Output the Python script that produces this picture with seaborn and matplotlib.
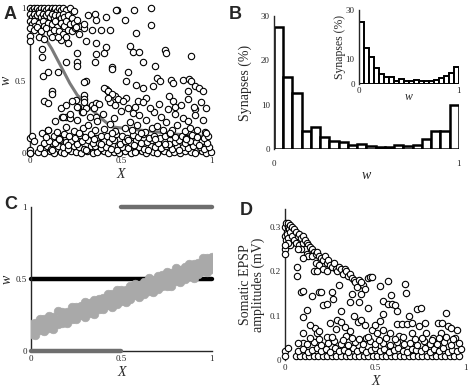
import numpy as np
import matplotlib
matplotlib.use("Agg")
import matplotlib.pyplot as plt
import seaborn as sns

sns.set_style("white")
plt.rcParams['font.family'] = ['Liberation Serif', 'DejaVu Serif']

# ---- panel A : weight w against position X ----
a_top = [
    (0.0, 1.0), (0.01, 0.99), (0.02, 1.0), (0.03, 0.98), (0.04, 1.0), (0.05, 0.99), (0.06, 1.0),
    (0.07, 0.98), (0.08, 1.0), (0.09, 0.99), (0.10, 1.0), (0.11, 0.98), (0.12, 1.0), (0.13, 0.99),
    (0.14, 1.0), (0.15, 0.98), (0.16, 1.0), (0.17, 0.99), (0.18, 1.0), (0.20, 0.99), (0.22, 1.0),
    (0.24, 0.98), (0.0, 0.96), (0.01, 0.94), (0.02, 0.96), (0.03, 0.93), (0.04, 0.95), (0.05, 0.97),
    (0.06, 0.94), (0.07, 0.96), (0.08, 0.93), (0.09, 0.95), (0.10, 0.97), (0.11, 0.94), (0.12, 0.96),
    (0.13, 0.93), (0.14, 0.95), (0.15, 0.92), (0.16, 0.95), (0.17, 0.93), (0.18, 0.96), (0.19, 0.94),
    (0.21, 0.95), (0.23, 0.93), (0.0, 0.91), (0.01, 0.89), (0.02, 0.91), (0.03, 0.88), (0.05, 0.90),
    (0.07, 0.91), (0.08, 0.88), (0.10, 0.90), (0.12, 0.89), (0.14, 0.91), (0.15, 0.87), (0.17, 0.90),
    (0.19, 0.88), (0.20, 0.91), (0.22, 0.89), (0.24, 0.90), (0.26, 0.92), (0.0, 0.86), (0.02, 0.85),
    (0.04, 0.87), (0.06, 0.84), (0.09, 0.86), (0.11, 0.83), (0.13, 0.85), (0.16, 0.84), (0.18, 0.82),
    (0.21, 0.85), (0.23, 0.84), (0.25, 0.86), (0.28, 0.88), (0.0, 0.81), (0.0, 0.77), (0.05, 0.80),
    (0.08, 0.79), (0.12, 0.80), (0.17, 0.78), (0.20, 0.80), (0.27, 0.82), (0.30, 0.86),
    (0.32, 0.95), (0.357, 0.96), (0.42, 0.94), (0.476, 0.99), (0.366, 0.92), (0.30, 0.894),
    (0.256, 0.87), (0.34, 0.85), (0.39, 0.85), (0.44, 0.85), (0.31, 0.77), (0.366, 0.757),
    (0.42, 0.73), (0.41, 0.69), (0.357, 0.63), (0.45, 0.59), (0.26, 0.69), (0.26, 0.63),
    (0.26, 0.60), (0.20, 0.63), (0.21, 0.76), (0.064, 0.72), (0.064, 0.66), (0.155, 0.80),
    (0.10, 0.56), (0.155, 0.56),
]
a_mid = [
    (0.475, 0.99), (0.57, 0.99), (0.667, 1.0), (0.52, 0.915), (0.667, 0.885), (0.585, 0.83),
    (0.55, 0.74), (0.565, 0.70), (0.60, 0.70), (0.62, 0.63), (0.685, 0.60), (0.74, 0.71),
    (0.75, 0.69), (0.887, 0.667), (0.45, 0.58), (0.54, 0.556), (0.53, 0.494), (0.585, 0.47),
    (0.62, 0.45), (0.676, 0.46), (0.70, 0.52), (0.713, 0.494), (0.777, 0.506), (0.786, 0.483),
    (0.84, 0.506), (0.877, 0.51), (0.887, 0.494), (0.91, 0.46), (0.93, 0.45), (0.95, 0.425),
    (0.87, 0.425), (0.87, 0.37), (0.764, 0.39), (0.786, 0.356), (0.795, 0.32), (0.64, 0.38),
    (0.594, 0.356), (0.91, 0.30), (0.97, 0.31), (0.073, 0.53), (0.12, 0.425), (0.08, 0.356),
    (0.31, 0.494), (0.30, 0.40), (0.30, 0.37), (0.366, 0.68), (0.417, 0.44), (0.43, 0.425),
    (0.466, 0.39), (0.485, 0.37), (0.53, 0.38), (0.54, 0.31), (0.567, 0.276), (0.12, 0.41),
    (0.10, 0.345), (0.174, 0.25), (0.20, 0.25), (0.22, 0.24), (0.256, 0.365), (0.264, 0.32),
    (0.284, 0.285), (0.31, 0.31), (0.34, 0.33), (0.366, 0.345), (0.41, 0.45), (0.43, 0.43),
    (0.45, 0.41), (0.30, 0.49), (0.44, 0.355), (0.366, 0.25), (0.10, 0.16), (0.064, 0.14),
    (0.0, 0.10), (0.01, 0.115), (0.02, 0.08), (0.0, 0.0), (0.0, 0.02),
]
a_low_x = [
    0.0, 0.045, 0.075, 0.11, 0.135, 0.17, 0.19, 0.225, 0.255, 0.28, 0.315, 0.345, 0.37, 0.405,
    0.43, 0.465, 0.49, 0.525, 0.555, 0.58, 0.615, 0.64, 0.675, 0.70, 0.735, 0.765, 0.79, 0.825,
    0.85, 0.885, 0.91, 0.945, 0.97, 0.995,
    0.058, 0.092, 0.118, 0.152, 0.183, 0.207, 0.243, 0.268, 0.297, 0.334, 0.356, 0.392, 0.418,
    0.447, 0.483, 0.508, 0.538, 0.572, 0.597, 0.628, 0.663, 0.688, 0.722, 0.748, 0.782, 0.806,
    0.843, 0.868, 0.897, 0.932, 0.958, 0.985,
    0.075, 0.105, 0.14, 0.165, 0.20, 0.228, 0.26, 0.285, 0.318, 0.345, 0.378, 0.405, 0.435,
    0.462, 0.495, 0.522, 0.553, 0.585, 0.612, 0.645, 0.672, 0.705, 0.735, 0.762, 0.795, 0.822,
    0.855, 0.882, 0.915, 0.945, 0.975,
    0.09, 0.13, 0.16, 0.19, 0.215, 0.25, 0.275, 0.305, 0.335, 0.365, 0.39, 0.425, 0.45, 0.475,
    0.505, 0.535, 0.565, 0.595, 0.62, 0.655, 0.68, 0.715, 0.74, 0.77, 0.80, 0.835, 0.86, 0.89,
    0.92, 0.955, 0.98,
    0.10, 0.15, 0.20, 0.24, 0.29, 0.32, 0.36, 0.41, 0.44, 0.47, 0.52, 0.56, 0.59, 0.63, 0.67,
    0.70, 0.73, 0.78, 0.81, 0.85, 0.88, 0.92, 0.96,
    0.14, 0.18, 0.22, 0.26, 0.29, 0.33, 0.37, 0.40, 0.46, 0.50, 0.55, 0.60, 0.64, 0.68, 0.72,
    0.75, 0.80, 0.84, 0.87, 0.91, 0.95,
    0.17, 0.20, 0.23, 0.26, 0.30, 0.35, 0.38, 0.43, 0.47, 0.51, 0.58, 0.62, 0.66, 0.71, 0.76,
    0.83, 0.90, 0.94,
    0.12, 0.21, 0.31, 0.39, 0.48, 0.57, 0.65, 0.74, 0.82, 0.93, 0.16, 0.27, 0.35, 0.45, 0.54,
    0.61, 0.69, 0.77, 0.86, 0.97,
]
a_low_w = [
    0.0, 0.005, 0.0, 0.01, 0.0, 0.005, 0.0, 0.01, 0.005, 0.0, 0.01, 0.0, 0.005, 0.01, 0.0, 0.005,
    0.0, 0.01, 0.0, 0.005, 0.01, 0.0, 0.005, 0.0, 0.01, 0.0, 0.005, 0.0, 0.01, 0.005, 0.0, 0.01,
    0.0, 0.005,
    0.035, 0.045, 0.03, 0.05, 0.04, 0.03, 0.048, 0.038, 0.03, 0.045, 0.05, 0.035, 0.04, 0.03,
    0.05, 0.042, 0.033, 0.047, 0.038, 0.03, 0.05, 0.04, 0.035, 0.045, 0.03, 0.05, 0.04, 0.033,
    0.046, 0.038, 0.03, 0.044,
    0.07, 0.08, 0.065, 0.09, 0.075, 0.085, 0.06, 0.08, 0.09, 0.07, 0.065, 0.085, 0.075, 0.09,
    0.06, 0.08, 0.07, 0.088, 0.065, 0.078, 0.09, 0.07, 0.082, 0.06, 0.075, 0.088, 0.068, 0.08,
    0.072, 0.085, 0.065,
    0.11, 0.12, 0.10, 0.13, 0.115, 0.105, 0.125, 0.11, 0.13, 0.10, 0.12, 0.115, 0.105, 0.13,
    0.12, 0.10, 0.125, 0.11, 0.13, 0.105, 0.12, 0.10, 0.115, 0.13, 0.11, 0.12, 0.105, 0.125,
    0.11, 0.10, 0.12,
    0.16, 0.145, 0.18, 0.15, 0.17, 0.19, 0.155, 0.165, 0.20, 0.15, 0.175, 0.16, 0.19, 0.145,
    0.17, 0.185, 0.155, 0.16, 0.19, 0.15, 0.175, 0.16, 0.145,
    0.22, 0.25, 0.27, 0.23, 0.28, 0.25, 0.22, 0.27, 0.24, 0.29, 0.21, 0.26, 0.23, 0.28, 0.25,
    0.21, 0.27, 0.24, 0.22, 0.26, 0.23,
    0.31, 0.33, 0.36, 0.32, 0.35, 0.31, 0.34, 0.38, 0.33, 0.36, 0.32, 0.35, 0.31, 0.34, 0.30,
    0.33, 0.32, 0.35,
    0.02, 0.055, 0.02, 0.06, 0.018, 0.056, 0.022, 0.058, 0.02, 0.055, 0.095, 0.14, 0.095, 0.135,
    0.092, 0.14, 0.095, 0.138, 0.094, 0.14,
]
a_trend_x = [0.01, 0.05, 0.12, 0.22, 0.26, 0.33, 0.40, 0.45, 0.55, 0.66, 0.80, 0.95]
a_trend_w = [0.93, 0.86, 0.72, 0.48, 0.40, 0.31, 0.23, 0.18, 0.165, 0.15, 0.13, 0.115]

# ---- panel B : histogram of w (percent per bin) ----
bin_centers = [0.025, 0.075, 0.125, 0.175, 0.225, 0.275, 0.325, 0.375, 0.425, 0.475,
               0.525, 0.575, 0.625, 0.675, 0.725, 0.775, 0.825, 0.875, 0.925, 0.975]
hist_main = [27.4, 16.3, 12.7, 4.1, 5.0, 2.8, 1.9, 1.5, 0.9, 1.1,
             0.75, 0.5, 0.5, 0.8, 0.6, 0.8, 2.2, 4.0, 4.0, 9.9]
hist_inset = [25.2, 14.5, 10.9, 6.5, 4.0, 3.0, 2.7, 1.3, 2.0, 1.1,
              1.2, 1.7, 1.1, 1.1, 1.3, 1.6, 2.4, 3.3, 4.5, 6.8]

# ---- panel C : grey band of weights ----
c_x = [0.0, 0.025, 0.05, 0.075, 0.1, 0.125, 0.15, 0.175, 0.2, 0.225, 0.25, 0.275, 0.3, 0.325,
       0.35, 0.375, 0.4, 0.425, 0.45, 0.475, 0.5, 0.525, 0.55, 0.575, 0.6, 0.625, 0.65, 0.675,
       0.7, 0.725, 0.75, 0.775, 0.8, 0.825, 0.85, 0.875, 0.9, 0.925, 0.95, 0.975, 1.0]
c_w_mid = [0.150, 0.165, 0.170, 0.188, 0.193, 0.211, 0.216, 0.234, 0.240, 0.257, 0.262, 0.280,
           0.285, 0.303, 0.308, 0.326, 0.331, 0.349, 0.354, 0.372, 0.383, 0.389, 0.406, 0.412,
           0.429, 0.435, 0.452, 0.458, 0.475, 0.481, 0.498, 0.504, 0.521, 0.527, 0.544, 0.550,
           0.567, 0.573, 0.590, 0.596, 0.612]
c_w_hi = [0.190, 0.192, 0.223, 0.220, 0.241, 0.238, 0.274, 0.271, 0.272, 0.304, 0.305, 0.312,
          0.343, 0.330, 0.356, 0.363, 0.364, 0.396, 0.392, 0.424, 0.420, 0.422, 0.448, 0.465,
          0.461, 0.478, 0.504, 0.491, 0.517, 0.524, 0.545, 0.542, 0.573, 0.560, 0.586, 0.603,
          0.604, 0.611, 0.642, 0.644, 0.650]
c_w_lo = [0.115, 0.112, 0.143, 0.140, 0.156, 0.153, 0.189, 0.191, 0.192, 0.219, 0.220, 0.247,
          0.238, 0.260, 0.256, 0.288, 0.289, 0.316, 0.307, 0.329, 0.345, 0.337, 0.363, 0.385,
          0.376, 0.393, 0.414, 0.411, 0.432, 0.454, 0.450, 0.452, 0.483, 0.480, 0.501, 0.523,
          0.509, 0.531, 0.552, 0.549, 0.570]
c_line_x = [0.0, 1.0]
c_top_x = [0.5, 1.0]
c_bot_x = [0.0, 0.5]

# ---- panel D : somatic EPSP amplitude against X ----
d_pts = [
    (0.0, 0.30), (0.005, 0.31), (0.01, 0.29), (0.015, 0.30), (0.02, 0.31), (0.025, 0.295),
    (0.03, 0.305), (0.0, 0.28), (0.005, 0.27), (0.0, 0.25), (0.0, 0.24), (0.01, 0.285),
    (0.02, 0.275), (0.03, 0.29), (0.04, 0.30), (0.05, 0.295), (0.04, 0.28), (0.05, 0.27),
    (0.06, 0.29), (0.07, 0.28), (0.06, 0.265), (0.08, 0.285), (0.09, 0.275), (0.10, 0.28),
    (0.08, 0.26), (0.10, 0.265), (0.11, 0.27), (0.12, 0.265), (0.13, 0.26), (0.11, 0.25),
    (0.12, 0.24), (0.14, 0.255), (0.15, 0.25), (0.16, 0.245), (0.13, 0.235), (0.15, 0.235),
    (0.17, 0.24), (0.18, 0.245), (0.19, 0.235), (0.20, 0.23), (0.17, 0.22), (0.19, 0.215),
    (0.21, 0.225), (0.22, 0.235), (0.23, 0.22), (0.24, 0.225), (0.25, 0.215), (0.21, 0.205),
    (0.23, 0.20), (0.26, 0.21), (0.27, 0.22), (0.28, 0.205), (0.29, 0.20), (0.30, 0.21),
    (0.31, 0.205), (0.32, 0.195), (0.33, 0.205), (0.34, 0.20), (0.35, 0.19), (0.36, 0.195),
    (0.37, 0.185), (0.38, 0.18), (0.39, 0.175), (0.41, 0.18), (0.43, 0.17), (0.44, 0.16),
    (0.46, 0.185), (0.40, 0.165), (0.42, 0.15), (0.16, 0.20), (0.18, 0.20), (0.10, 0.23),
    (0.09, 0.25), (0.07, 0.25), (0.03, 0.26), (0.02, 0.265), (0.0, 0.26),
    (0.065, 0.21), (0.065, 0.19), (0.09, 0.154), (0.10, 0.155), (0.15, 0.145), (0.19, 0.153),
    (0.20, 0.153), (0.26, 0.153), (0.265, 0.137), (0.21, 0.124), (0.23, 0.127), (0.12, 0.113),
    (0.098, 0.098), (0.31, 0.11), (0.36, 0.132), (0.41, 0.132), (0.46, 0.117), (0.42, 0.177),
    (0.47, 0.188), (0.30, 0.17), (0.37, 0.15), (0.25, 0.083), (0.29, 0.09), (0.31, 0.085),
    (0.165, 0.072), (0.175, 0.06), (0.19, 0.065), (0.23, 0.053), (0.405, 0.086), (0.42, 0.09),
    (0.44, 0.08), (0.10, 0.06), (0.098, 0.038), (0.07, 0.038), (0.0, 0.02), (0.017, 0.027),
    (0.0, 0.01), (0.48, 0.188), (0.525, 0.168), (0.57, 0.178), (0.663, 0.172), (0.667, 0.152),
    (0.584, 0.147), (0.543, 0.134), (0.57, 0.126), (0.59, 0.126), (0.608, 0.124), (0.617, 0.11),
    (0.727, 0.115), (0.75, 0.117), (0.687, 0.10), (0.54, 0.103), (0.525, 0.088), (0.888, 0.107),
    (0.773, 0.083), (0.617, 0.081), (0.645, 0.081), (0.673, 0.081), (0.70, 0.083), (0.74, 0.076),
    (0.845, 0.083), (0.87, 0.083), (0.90, 0.076), (0.92, 0.073), (0.95, 0.068), (0.48, 0.068),
    (0.51, 0.06), (0.54, 0.068), (0.50, 0.079), (0.33, 0.075), (0.36, 0.065), (0.28, 0.07),
    (0.14, 0.08), (0.38, 0.10), (0.34, 0.055), (0.58, 0.06), (0.63, 0.055), (0.78, 0.06),
    (0.82, 0.05), (0.86, 0.06), (0.94, 0.05), (0.70, 0.06), (0.45, 0.05),
]
d_low_x = [
    0.06, 0.085, 0.11, 0.135, 0.16, 0.185, 0.21, 0.235, 0.26, 0.285, 0.31, 0.335, 0.36, 0.385,
    0.41, 0.435, 0.46, 0.485, 0.51, 0.535, 0.56, 0.585, 0.61, 0.635, 0.66, 0.685, 0.71, 0.735,
    0.76, 0.785, 0.81, 0.835, 0.86, 0.885, 0.91, 0.935, 0.96,
    0.075, 0.10, 0.125, 0.15, 0.175, 0.20, 0.225, 0.25, 0.275, 0.30, 0.325, 0.35, 0.375, 0.40,
    0.425, 0.45, 0.475, 0.50, 0.525, 0.55, 0.575, 0.60, 0.625, 0.65, 0.675, 0.70, 0.725, 0.75,
    0.775, 0.80, 0.825, 0.85, 0.875, 0.90, 0.925, 0.95, 0.97,
    0.12, 0.16, 0.20, 0.24, 0.27, 0.31, 0.35, 0.39, 0.43, 0.47, 0.50, 0.54, 0.58, 0.62, 0.66,
    0.69, 0.73, 0.77, 0.80, 0.84, 0.88, 0.92, 0.96,
    0.14, 0.19, 0.26, 0.32, 0.37, 0.41, 0.46, 0.52, 0.56, 0.61, 0.65, 0.72, 0.76, 0.81, 0.85,
    0.89, 0.93,
]
d_low_y = [
    0.01, 0.008, 0.01, 0.009, 0.01, 0.008, 0.01, 0.009, 0.01, 0.008, 0.01, 0.009, 0.01, 0.008,
    0.01, 0.009, 0.01, 0.008, 0.01, 0.009, 0.01, 0.008, 0.01, 0.009, 0.01, 0.008, 0.01, 0.009,
    0.01, 0.008, 0.01, 0.009, 0.01, 0.008, 0.01, 0.009, 0.01,
    0.02, 0.025, 0.018, 0.022, 0.027, 0.02, 0.024, 0.019, 0.026, 0.021, 0.023, 0.018, 0.027,
    0.02, 0.025, 0.019, 0.022, 0.026, 0.02, 0.024, 0.018, 0.023, 0.027, 0.021, 0.019, 0.025,
    0.022, 0.02, 0.026, 0.018, 0.024, 0.021, 0.027, 0.019, 0.023, 0.02, 0.025,
    0.035, 0.04, 0.033, 0.038, 0.042, 0.036, 0.034, 0.04, 0.037, 0.043, 0.035, 0.039, 0.033,
    0.041, 0.036, 0.038, 0.034, 0.042, 0.037, 0.035, 0.04, 0.033, 0.038,
    0.05, 0.047, 0.052, 0.046, 0.05, 0.048, 0.053, 0.046, 0.05, 0.048, 0.052, 0.047, 0.05,
    0.046, 0.049, 0.052, 0.047,
]

# figure
fig = plt.figure(figsize=(4.74, 3.89), dpi=100)
ms = 21
ring = dict(facecolor="white", edgecolor="black", linewidth=0.8, clip_on=False, legend=False)
tick_kw = dict(direction="in", length=3, width=0.8, labelsize=6.5, pad=3)


def style(ax):
    sns.despine(ax=ax)
    for s in ("left", "bottom"):
        ax.spines[s].set_linewidth(1.0)
    ax.tick_params(**tick_kw)


# A
axA = fig.add_axes([0.063, 0.607, 0.384, 0.372])
sns.lineplot(x=a_trend_x, y=a_trend_w, ax=axA, color="#7a7a7a", lw=2.2, zorder=1)
a_x = [p[0] for p in a_top + a_mid] + a_low_x
a_w = [p[1] for p in a_top + a_mid] + a_low_w
sns.scatterplot(x=a_x, y=a_w, ax=axA, s=ms, zorder=3, **ring)
axA.set_xlim(0, 1)
axA.set_ylim(0, 1)
axA.set_xticks([0, 0.5, 1], ["0", "0.5", "1"])
axA.set_yticks([0, 0.5, 1], ["0", "0.5", "1"])
style(axA)
axA.set_xlabel("X", fontsize=10, style="italic", labelpad=2)
axA.set_ylabel("w", fontsize=10, style="italic", labelpad=1)

# B main
axB = fig.add_axes([0.578, 0.617, 0.390, 0.342])
sns.barplot(x=bin_centers, y=hist_main, ax=axB, native_scale=True, width=1,
            color="white", edgecolor="black", linewidth=1.8, saturation=1)
axB.set_xlim(0, 1)
axB.set_ylim(0, 30)
axB.set_yticks([0, 10, 20, 30], ["0", "10", "20", "30"])
axB.set_xticks([0, 1], ["0", "1"])
style(axB)
axB.spines["bottom"].set_visible(False)
axB.tick_params(axis="x", length=0, pad=8)
axB.set_xlabel("w", fontsize=10, style="italic", labelpad=1)
axB.set_ylabel("Synapses (%)", fontsize=10, labelpad=6)

# B inset
axI = fig.add_axes([0.757, 0.784, 0.211, 0.190])
sns.barplot(x=bin_centers, y=hist_inset, ax=axI, native_scale=True, width=1,
            color="white", edgecolor="black", linewidth=1.4, saturation=1)
axI.set_xlim(0, 1)
axI.set_ylim(0, 30)
axI.set_yticks([0, 10, 20, 30], ["0", "10", "", "30"])
axI.set_xticks([0, 1], ["0", "1"])
style(axI)
axI.spines["bottom"].set_visible(False)
axI.tick_params(axis="x", length=0, pad=2)
axI.set_xlabel("w", fontsize=8.5, style="italic", labelpad=-3)
axI.set_ylabel("Synapses (%)", fontsize=8.5, labelpad=0)

# C
axC = fig.add_axes([0.065, 0.098, 0.382, 0.370])
c_all_x = c_x + c_x + c_x
c_all_w = c_w_lo + c_w_mid + c_w_hi
sns.lineplot(x=c_line_x, y=[0.5, 0.5], ax=axC, color="black", lw=3.2, zorder=2)
sns.scatterplot(x=c_all_x, y=c_all_w, ax=axC, s=38, color="#a9a9a9", edgecolor="#a9a9a9",
                linewidth=0.5, zorder=3, legend=False)
sns.lineplot(x=c_top_x, y=[1, 1], ax=axC, color="#6e6e6e", lw=3.2, zorder=4)
sns.lineplot(x=c_bot_x, y=[0, 0], ax=axC, color="#6e6e6e", lw=3.2, zorder=4)
for ln in axC.lines:
    ln.set_clip_on(False)
axC.set_xlim(0, 1)
axC.set_ylim(0, 1)
axC.set_xticks([0, 0.5, 1], ["0", "0.5", "1"])
axC.set_yticks([0, 0.5, 1], ["0", "0.5", "1"])
style(axC)
axC.set_xlabel("X", fontsize=10, style="italic", labelpad=2)
axC.set_ylabel("w", fontsize=10, style="italic", labelpad=1)

# D
axD = fig.add_axes([0.601, 0.0746, 0.382, 0.387])
d_x = [p[0] for p in d_pts] + d_low_x
d_y = [p[1] for p in d_pts] + d_low_y
sns.scatterplot(x=d_x, y=d_y, ax=axD, s=ms, zorder=3, **ring)
axD.set_xlim(0, 1)
axD.set_ylim(0, 0.34)
axD.set_xticks([0, 0.5, 1], ["0", "0.5", "1"])
axD.set_yticks([0, 0.1, 0.2, 0.3], ["0", "0.1", "0.2", "0.3"])
style(axD)
axD.spines["bottom"].set_visible(False)
axD.tick_params(axis="x", length=0)
axD.set_xlabel("X", fontsize=10, style="italic", labelpad=2)
axD.set_ylabel("Somatic EPSP\namplitudes (mV)", fontsize=10, labelpad=3, linespacing=1.0)

# panel letters
for lab, (x, y) in {"A": (0.008, 0.985), "B": (0.483, 0.985),
                    "C": (0.008, 0.495), "D": (0.505, 0.48)}.items():
    fig.text(x, y, lab, fontsize=13, fontweight="bold", family="Liberation Sans",
             va="top", ha="left")

fig.savefig("out.png", dpi=100)
